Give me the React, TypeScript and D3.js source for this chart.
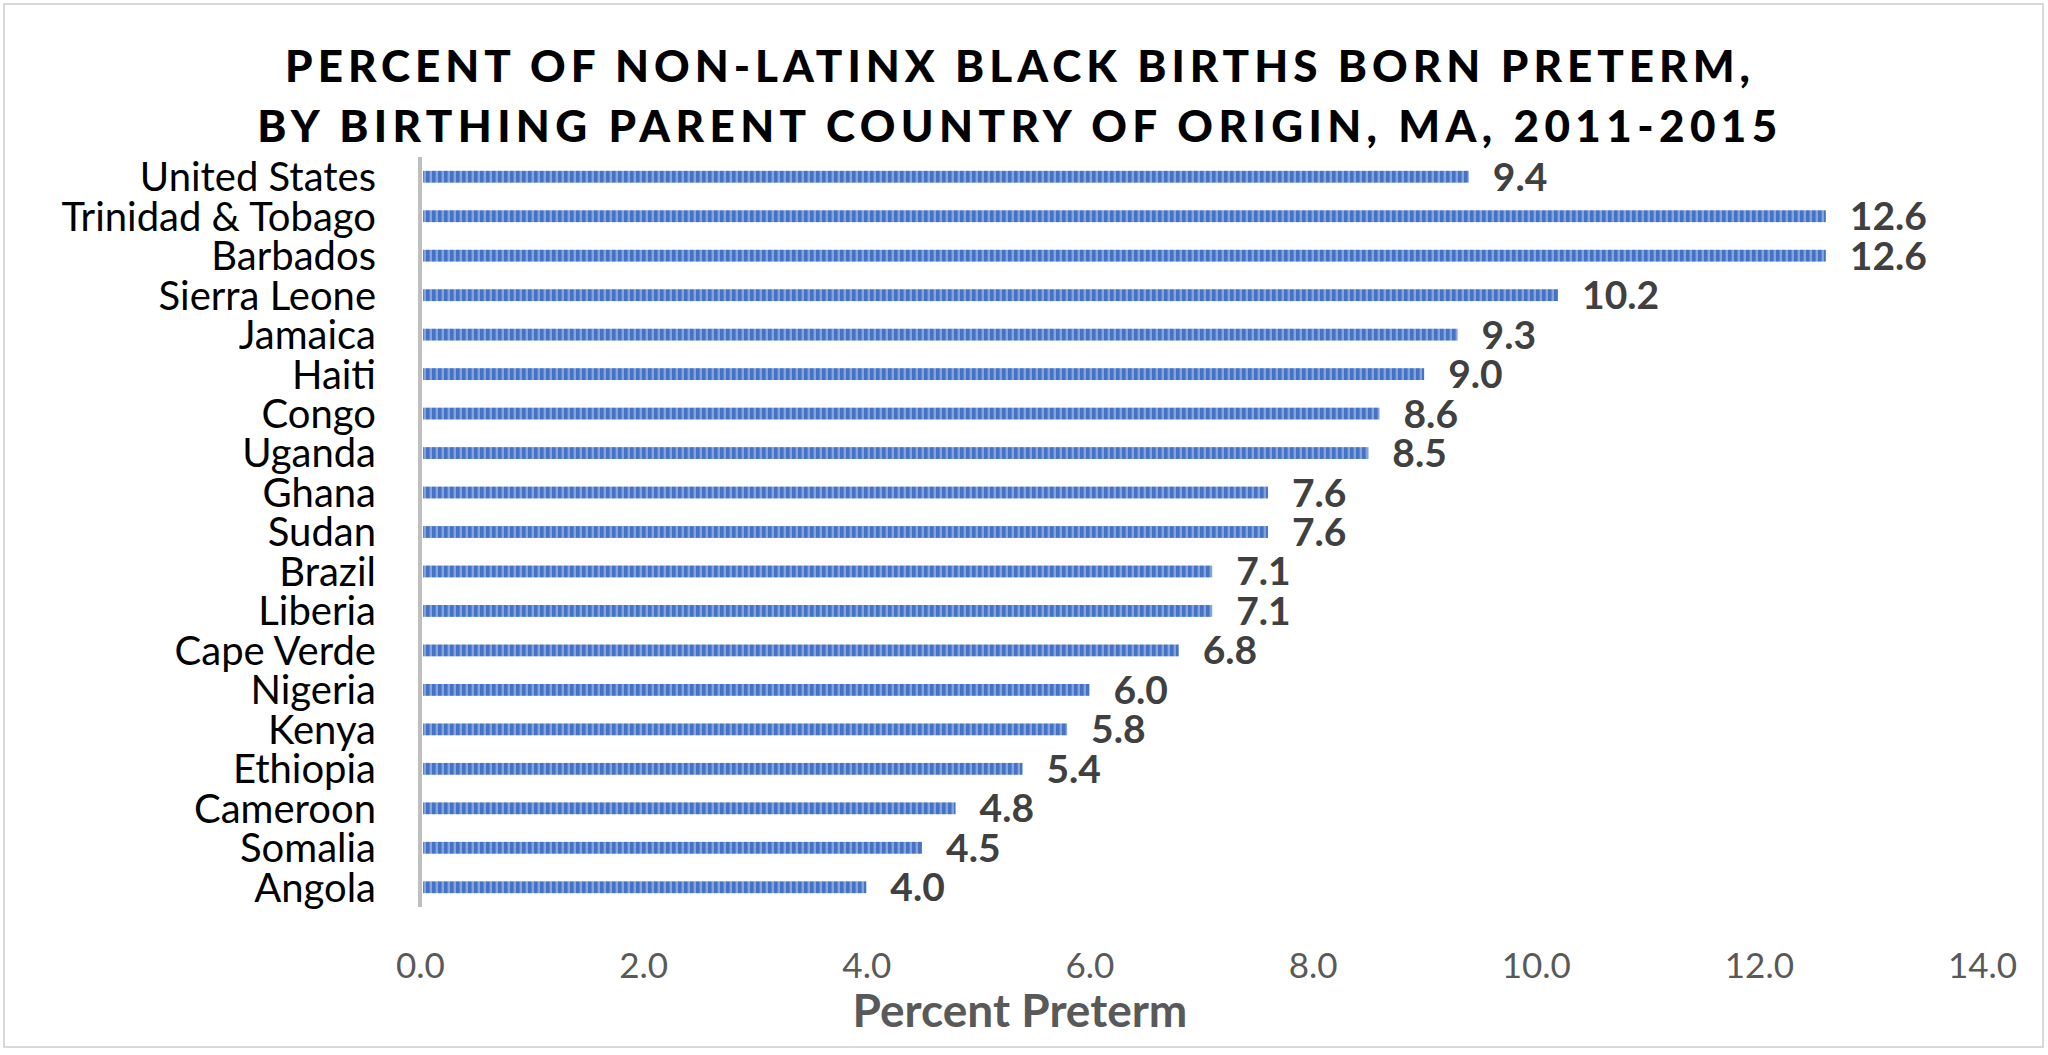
import { useRef, useEffect } from 'react';
import * as d3 from 'd3';

const countries = [
  'United States',
  'Trinidad & Tobago',
  'Barbados',
  'Sierra Leone',
  'Jamaica',
  'Haiti',
  'Congo',
  'Uganda',
  'Ghana',
  'Sudan',
  'Brazil',
  'Liberia',
  'Cape Verde',
  'Nigeria',
  'Kenya',
  'Ethiopia',
  'Cameroon',
  'Somalia',
  'Angola',
];

const pctPreterm = [9.4, 12.6, 12.6, 10.2, 9.3, 9.0, 8.6, 8.5, 7.6, 7.6, 7.1, 7.1, 6.8, 6.0, 5.8, 5.4, 4.8, 4.5, 4.0];

const xTicks = [0, 2, 4, 6, 8, 10, 12, 14];

const titleLines = [
  'PERCENT OF NON-LATINX BLACK BIRTHS BORN PRETERM,',
  'BY BIRTHING PARENT COUNTRY OF ORIGIN, MA, 2011-2015',
];

const WIDTH = 2048;
const HEIGHT = 1055;
const FONT = 'Lato, "Open Sans", sans-serif';

export default function App() {
  const svgRef = useRef<SVGSVGElement>(null);

  useEffect(() => {
    if (!svgRef.current) return;
    const svg = d3.select(svgRef.current);
    svg.selectAll('*').remove();

    const margin = { top: 157, right: 66, bottom: 150, left: 420 };

    const xScale = d3.scaleLinear().domain([0, 14]).range([margin.left, WIDTH - margin.right]);
    const yScale = d3
      .scaleBand<string>()
      .domain(countries)
      .range([margin.top, HEIGHT - margin.bottom + 2])
      .paddingInner(0.7)
      .paddingOuter(0.35);

    // striped fill like the Excel pattern
    const defs = svg.append('defs');
    const pat = defs
      .append('pattern')
      .attr('id', 'stripes')
      .attr('patternUnits', 'userSpaceOnUse')
      .attr('width', 6)
      .attr('height', 20);
    pat.append('rect').attr('width', 6).attr('height', 20).attr('fill', '#86a3dc');
    pat.append('rect').attr('width', 3.6).attr('height', 20).attr('fill', '#4472c4');

    // frame
    svg
      .append('rect')
      .attr('x', 4)
      .attr('y', 4)
      .attr('width', WIDTH - 9)
      .attr('height', HEIGHT - 12)
      .attr('fill', '#fff')
      .attr('stroke', '#d9d9d9')
      .attr('stroke-width', 2);

    // title
    svg
      .append('g')
      .selectAll('text')
      .data(titleLines)
      .enter()
      .append('text')
      .attr('x', 1020)
      .attr('y', (_, i) => 82 + i * 60)
      .attr('text-anchor', 'middle')
      .attr('font-family', FONT)
      .attr('font-weight', 900)
      .attr('font-size', '44px')
      .attr('letter-spacing', (_, i) => (i === 0 ? '5px' : '5.4px'))
      .attr('fill', '#000')
      .text((d) => d);

    // bars
    svg
      .append('g')
      .selectAll('rect')
      .data(countries)
      .enter()
      .append('rect')
      .attr('x', xScale(0) + 3)
      .attr('y', (d) => yScale(d) || 0)
      .attr('height', yScale.bandwidth())
      .attr('width', (_, i) => xScale(pctPreterm[i]) - xScale(0) - 3)
      .attr('fill', 'url(#stripes)');

    // value labels
    svg
      .append('g')
      .selectAll('text')
      .data(countries)
      .enter()
      .append('text')
      .attr('x', (_, i) => xScale(pctPreterm[i]) + 24)
      .attr('y', (d) => (yScale(d) || 0) + yScale.bandwidth() / 2 + 14)
      .attr('font-family', FONT)
      .attr('font-weight', 700)
      .attr('font-size', '39px')
      .attr('fill', '#404040')
      .text((_, i) => pctPreterm[i].toFixed(1));

    // y axis
    const yAxis = svg
      .append('g')
      .attr('transform', `translate(${xScale(0)},0)`)
      .call(d3.axisLeft(yScale).tickSize(0).tickPadding(44));
    yAxis.select('.domain').remove();
    yAxis.append('line')
      .attr('x1', 0)
      .attr('x2', 0)
      .attr('y1', margin.top)
      .attr('y2', HEIGHT - margin.bottom + 2)
      .attr('stroke', '#bfbfbf')
      .attr('stroke-width', 4);
    yAxis
      .selectAll('.tick text')
      .attr('font-family', FONT)
      .attr('font-size', '40px')
      .attr('fill', '#000')
      .attr('dy', '0.36em');

    // x axis (labels only)
    const xAxis = svg
      .append('g')
      .attr('transform', `translate(0,${HEIGHT - margin.bottom + 2})`)
      .call(
        d3
          .axisBottom(xScale)
          .tickValues(xTicks)
          .tickSize(0)
          .tickPadding(46)
          .tickFormat((d) => (d as number).toFixed(1))
      );
    xAxis.select('.domain').remove();
    xAxis
      .selectAll('.tick text')
      .attr('font-family', FONT)
      .attr('font-size', '35px')
      .attr('fill', '#595959');

    // x axis title
    svg
      .append('text')
      .attr('x', 1020)
      .attr('y', 1027)
      .attr('text-anchor', 'middle')
      .attr('font-family', FONT)
      .attr('font-weight', 700)
      .attr('font-size', '46px')
      .attr('fill', '#595959')
      .text('Percent Preterm');
  }, []);

  return (
    <div style={{ position: 'absolute', left: 0, top: 0, background: '#fff' }}>
      <svg ref={svgRef} width={WIDTH} height={HEIGHT} style={{ display: 'block' }} />
    </div>
  );
}
